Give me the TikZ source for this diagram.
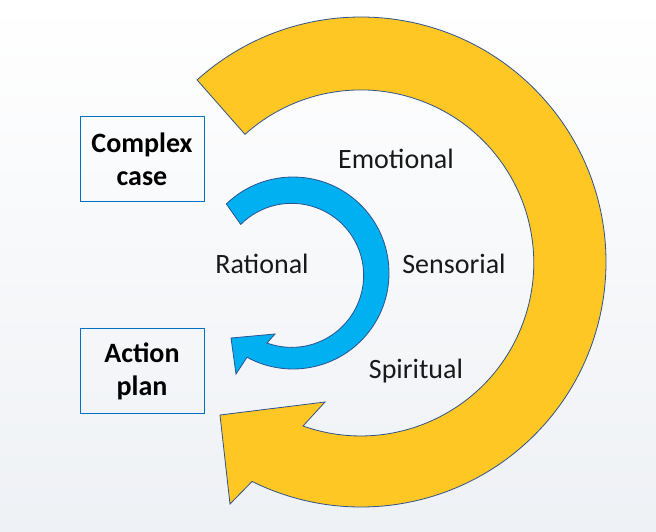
\documentclass[tikz,border=0pt]{standalone}
\usepackage{fontspec}
\setmainfont{Carlito}
\definecolor{yel}{RGB}{255,199,36}
\definecolor{blu}{RGB}{0,176,240}
\definecolor{edge}{RGB}{47,82,143}
\definecolor{boxc}{RGB}{0,112,192}
\begin{document}
\begin{tikzpicture}[x=1pt,y=-1pt,
  lbl/.style={font=\fontsize{28}{30}\selectfont,text=black!90},
  box/.style={draw=boxc,line width=1pt,minimum width=124pt,minimum height=85pt,font=\fontsize{28}{33}\selectfont\bfseries,align=center,inner sep=0pt},
  band/.style={draw=edge,line width=0.8pt,line join=miter}]
\shade[top color=white,bottom color={rgb,255:red,238;green,241;blue,245}] (0,0) rectangle (656,532);
\useasboundingbox (0,0) rectangle (656,532);
% yellow arrow
\draw[band,fill=yel] (361,262) ++(-132:245) arc[start angle=-132,end angle=116.4,radius=245]
  -- (230,504) -- (220,415) -- (325,402) -- (303,426)
  arc[start angle=109.5,end angle=-132,radius=173] -- cycle;
% blue arrow
\draw[band,fill=blu] (293,273) ++(-134:96) arc[start angle=-134,end angle=118.6,radius=96]
  -- (236,374) -- (231,338) -- (275,334) -- (267,343)
  arc[start angle=110,end angle=-135,radius=72] -- cycle;
\node[box] (cc) at (142,159) {Complex\\case};
\node[box] (ap) at (142,371) {Action\\plan};
\node[lbl] (em) at (396,159) {Emotional};
\node[lbl] (ra) at (262,264) {Rational};
\node[lbl] (se) at (454,264) {Sensorial};
\node[lbl] (sp) at (416,371) {Spiritual};
\end{tikzpicture}
\end{document}
